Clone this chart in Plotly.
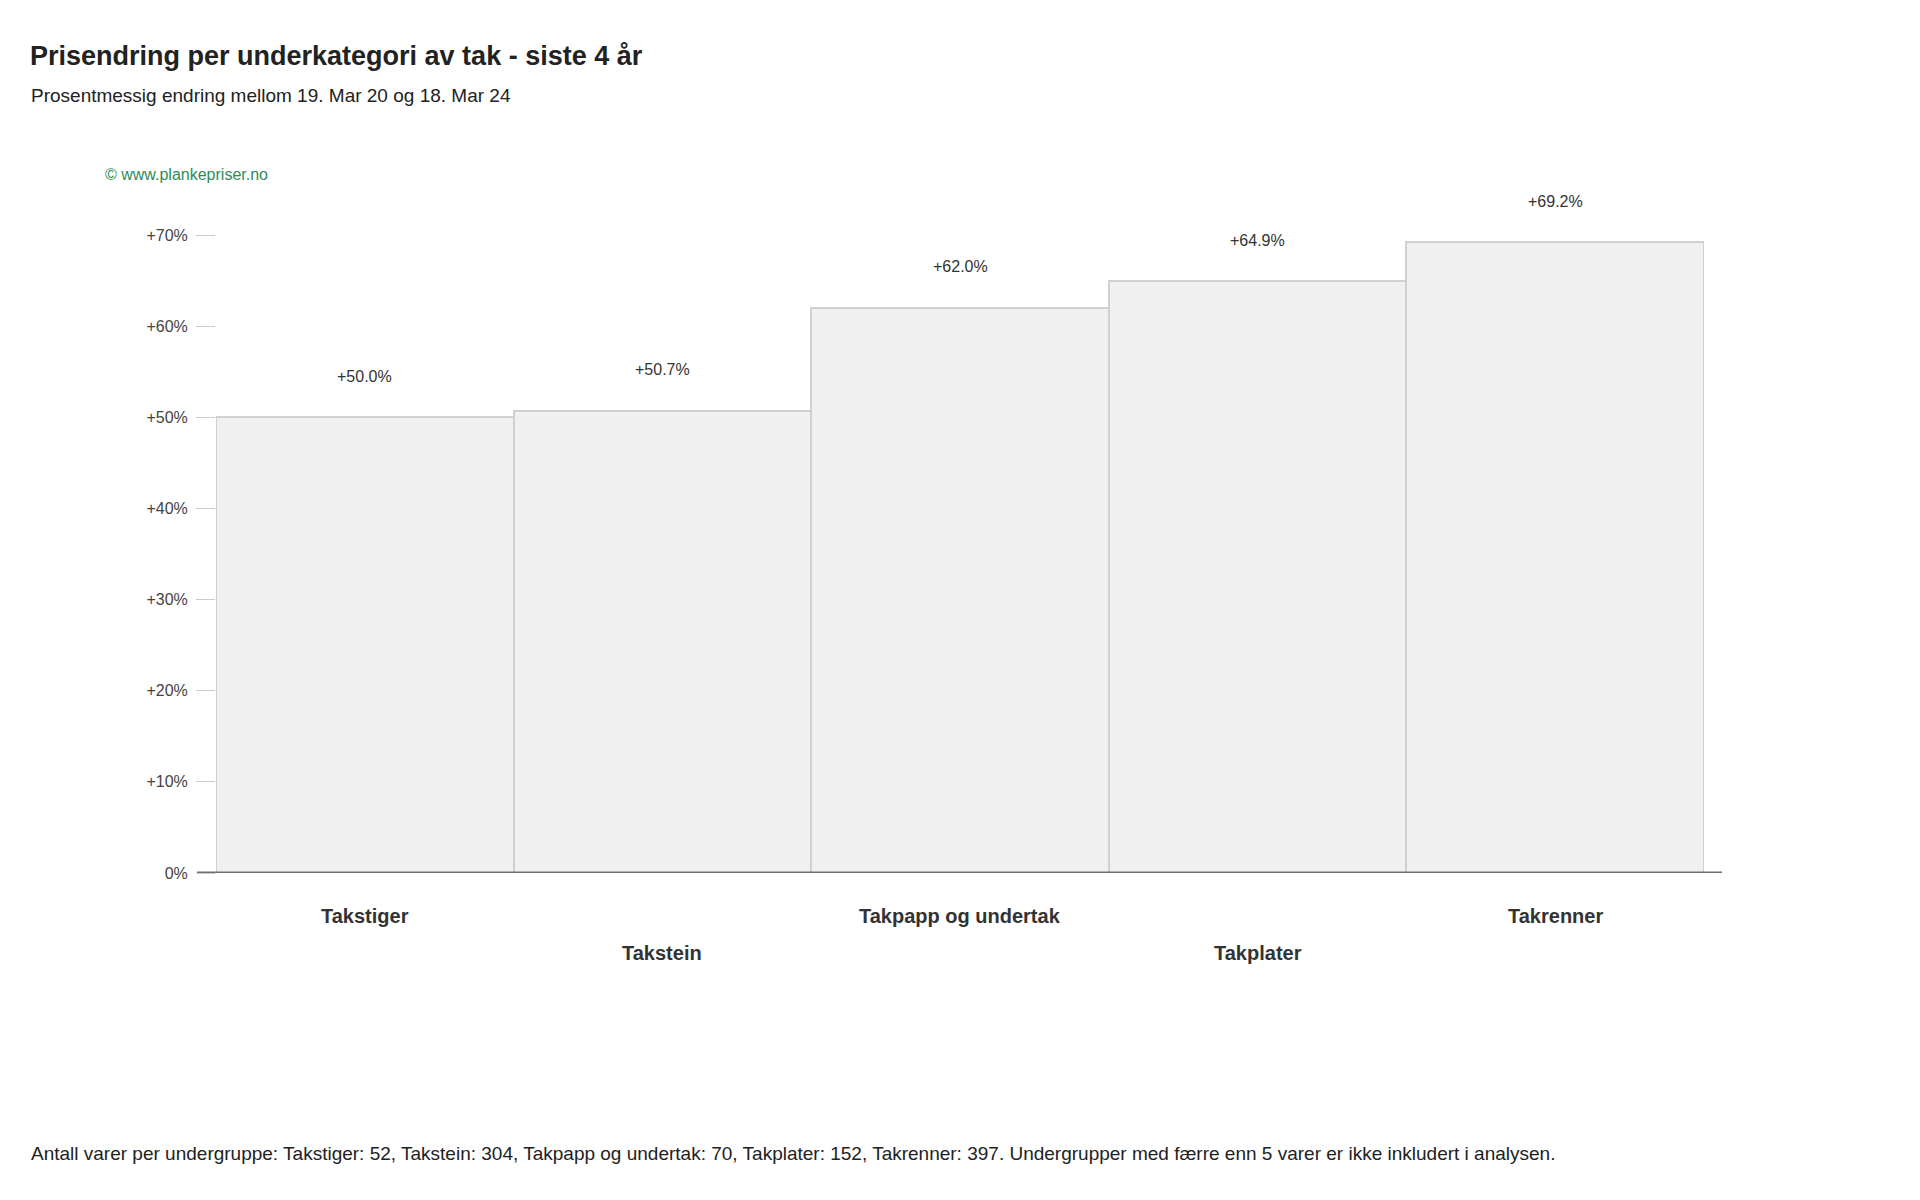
import plotly.graph_objects as go

# ---- data ----
categories = ["Takstiger", "Takstein", "Takpapp og undertak", "Takplater", "Takrenner"]
changes = [50.0, 50.7, 62.0, 64.9, 69.2]
item_counts = [52, 304, 70, 152, 397]
tick_values = [0, 10, 20, 30, 40, 50, 60, 70]
tick_labels = ["0%", "+10%", "+20%", "+30%", "+40%", "+50%", "+60%", "+70%"]

title_text = "Prisendring per underkategori av tak - siste 4 år"
subtitle_text = "Prosentmessig endring mellom 19. Mar 20 og 18. Mar 24"
credit_text = "© www.plankepriser.no"
footer_text = ("Antall varer per undergruppe: "
               + ", ".join(f"{c}: {n}" for c, n in zip(categories, item_counts))
               + ". Undergrupper med færre enn 5 varer er ikke inkludert i analysen.")

# ---- layout geometry (window pixels; the page body adds an 8px offset) ----
OFF = 8
W, H = 1920 - 2 * OFF, 1200 - 2 * OFF
L, R = 216 - OFF, 1704 - OFF
T, B = 235 - OFF, 873 - OFF
PW, PH = R - L, B - T


def px(x):
    return (x - OFF - L) / PW


def py(y):
    return (B - (y - OFF)) / PH


FONT = "Liberation Sans, Arial, Helvetica, sans-serif"

fig = go.Figure()
fig.add_trace(go.Bar(
    x=categories,
    y=changes,
    marker=dict(color="#f0f0f0", line=dict(color="#d0d0d0", width=2)),
    hoverinfo="skip",
))

annotations = []
for i, (c, v) in enumerate(zip(categories, changes)):
    annotations.append(dict(
        x=c, y=v, xref="x", yref="y", text=f"+{v:.1f}%", showarrow=False,
        yanchor="middle", yshift=41, font=dict(size=16, color="#333333", family=FONT),
    ))
    annotations.append(dict(
        x=c, y=0, xref="x", yref="paper", text=f"<b>{c}</b>", showarrow=False,
        yanchor="middle", yshift=-43 if i % 2 == 0 else -80,
        font=dict(size=20, color="#333333", family=FONT),
    ))

annotations.append(dict(
    x=px(102.5), y=py(175), xref="paper", yref="paper", text=credit_text, showarrow=False,
    xanchor="left", yanchor="middle", font=dict(size=16, color="#2e8b57", family=FONT),
))
annotations.append(dict(
    x=px(28.5), y=py(95.5), xref="paper", yref="paper", text=subtitle_text, showarrow=False,
    xanchor="left", yanchor="middle", font=dict(size=19, color="#222222", family=FONT),
))
annotations.append(dict(
    x=px(28.5), y=py(1153), xref="paper", yref="paper", text=footer_text, showarrow=False,
    xanchor="left", yanchor="middle", font=dict(size=19, color="#222222", family=FONT),
))

fig.update_layout(
    width=W, height=H,
    margin=dict(l=L, r=W - R, t=T, b=H - B, pad=0),
    paper_bgcolor="white", plot_bgcolor="white",
    bargap=0,
    showlegend=False,
    font=dict(family=FONT, color="#333333"),
    title=dict(
        text=f"<b>{title_text}</b>", xref="container", yref="container",
        x=(30 - OFF) / W, xanchor="left", y=1 - (56 - OFF) / H, yanchor="middle",
        font=dict(size=27, color="#222222", family=FONT),
    ),
    annotations=annotations,
    shapes=[dict(
        type="line", xref="paper", yref="y", x0=px(197), x1=px(1722), y0=0, y1=0,
        line=dict(color="#707070", width=3), layer="above",
    )],
    xaxis=dict(
        range=[-0.5, len(categories) - 0.5], showticklabels=False, showline=False,
        showgrid=False, zeroline=False, ticks="",
    ),
    yaxis=dict(
        range=[0, max(tick_values)], tickvals=tick_values, ticktext=tick_labels,
        showgrid=False, zeroline=False, showline=False,
        ticks="outside", ticklen=19, tickcolor="#cccccc", tickwidth=1,
        ticklabelstandoff=5,
        tickfont=dict(size=16, color="#444444", family=FONT),
    ),
)

fig.write_html("out.html")
